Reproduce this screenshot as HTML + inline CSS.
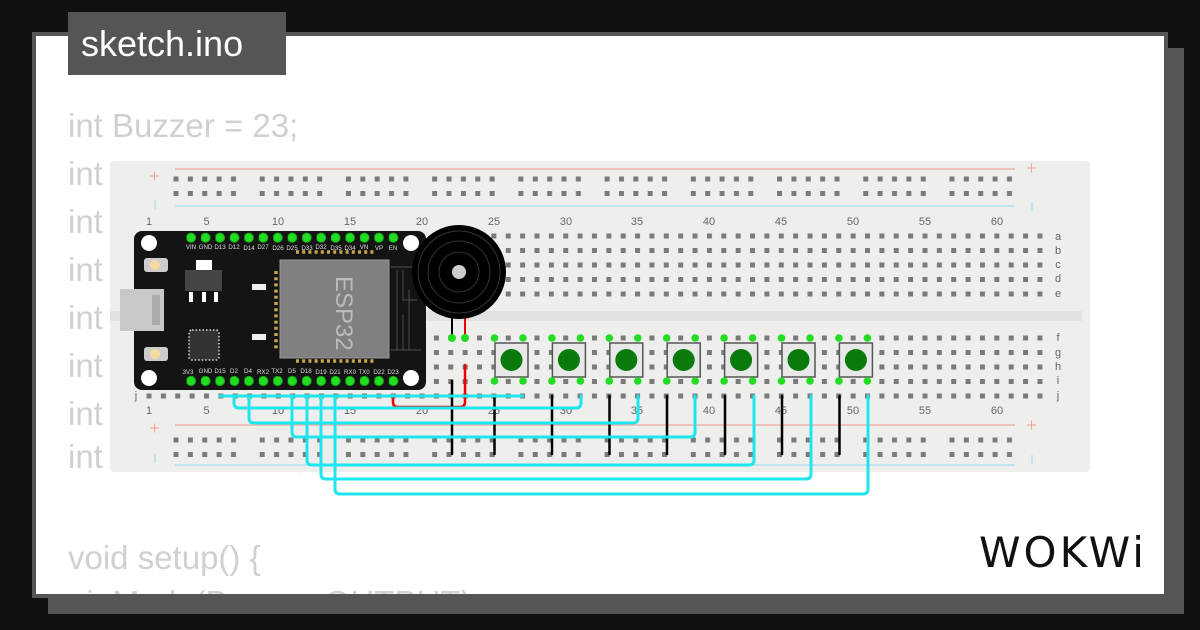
<!DOCTYPE html>
<html><head><meta charset="utf-8"><style>
html,body{margin:0;padding:0;background:#111;}
svg{display:block;}
</style></head><body>
<svg width="1200" height="630" viewBox="0 0 1200 630" xmlns="http://www.w3.org/2000/svg" font-family="Liberation Sans, sans-serif">
<defs>
<clipPath id="panel"><rect x="36" y="36" width="1128" height="558"/></clipPath>
<pattern id="h" x="146.5" y="233.5" width="14.37" height="14.5" patternUnits="userSpaceOnUse"><rect width="5" height="5" fill="#7a7a7a"/></pattern>
<pattern id="h2" x="146.5" y="335.5" width="14.37" height="14.5" patternUnits="userSpaceOnUse"><rect width="5" height="5" fill="#7a7a7a"/></pattern>
<pattern id="r1" x="173.5" y="176.5" width="86.22" height="14.5" patternUnits="userSpaceOnUse"><rect x="0" width="5" height="5" fill="#7a7a7a"/><rect x="14.37" width="5" height="5" fill="#7a7a7a"/><rect x="28.74" width="5" height="5" fill="#7a7a7a"/><rect x="43.11" width="5" height="5" fill="#7a7a7a"/><rect x="57.48" width="5" height="5" fill="#7a7a7a"/></pattern>
<pattern id="r2" x="173.5" y="437.5" width="86.22" height="14.5" patternUnits="userSpaceOnUse"><rect x="0" width="5" height="5" fill="#7a7a7a"/><rect x="14.37" width="5" height="5" fill="#7a7a7a"/><rect x="28.74" width="5" height="5" fill="#7a7a7a"/><rect x="43.11" width="5" height="5" fill="#7a7a7a"/><rect x="57.48" width="5" height="5" fill="#7a7a7a"/></pattern>
<pattern id="pin" x="186.5" y="0" width="14.45" height="630" patternUnits="userSpaceOnUse"><circle cx="4.5" cy="237.7" r="4.6" fill="#22dd22" stroke="#11aa11" stroke-width="1"/><circle cx="4.5" cy="381" r="4.6" fill="#22dd22" stroke="#11aa11" stroke-width="1"/></pattern>
</defs>
<rect x="48" y="48" width="1136" height="566" fill="#555"/>
<rect x="32" y="32" width="1136" height="566" fill="#555"/>
<rect x="36" y="36" width="1128" height="558" fill="#fff"/>
<g font-size="33" fill="#d0d0d0" clip-path="url(#panel)">
<text x="68" y="137">int Buzzer = 23;</text>
<text x="68" y="185">int button1 = 15;</text>
<text x="68" y="233">int button2 = 2;</text>
<text x="68" y="281">int button3 = 4;</text>
<text x="68" y="329">int button4 = 5;</text>
<text x="68" y="377">int button5 = 18;</text>
<text x="68" y="425">int button6 = 19;</text>
<text x="68" y="468">int button7 = 21;</text>
<text x="68" y="569">void setup() {</text>
<text x="68" y="614">  pinMode(Buzzer, OUTPUT);</text>
</g>
<rect x="68" y="12" width="218" height="63" fill="#555"/>
<text x="81" y="56" font-size="36" fill="#fff">sketch.ino</text>

<!-- breadboard -->
<rect x="110" y="161" width="980" height="311" rx="4" fill="#eeeeec"/>
<rect x="110" y="311" width="972" height="10" fill="#e2e2e2"/>
<line x1="175" y1="169" x2="1015" y2="169" stroke="#f2a9a0" stroke-width="1.2"/>
<line x1="175" y1="206" x2="1015" y2="206" stroke="#a8dcf0" stroke-width="1.2"/>
<line x1="175" y1="425" x2="1015" y2="425" stroke="#f2a9a0" stroke-width="1.2"/>
<line x1="175" y1="465" x2="1015" y2="465" stroke="#a8dcf0" stroke-width="1.2"/>
<g stroke="#f2a090" stroke-width="1"><path d="M150 176h9M154.5 171.5v9M1027 168h9M1031.5 163.5v9M150 428h9M154.5 423.5v9M1027 425h9M1031.5 420.5v9"/></g>
<g stroke="#a8dcf0" stroke-width="1.2"><path d="M155 200v9M1032 202v9M155 454v9M1032 455v9"/></g>
<rect x="173.5" y="176.5" width="862" height="20" fill="url(#r1)"/>
<rect x="173.5" y="437.5" width="862" height="20" fill="url(#r2)"/>
<rect x="146.5" y="233.5" width="905" height="70" fill="url(#h)"/>
<rect x="146.5" y="335.5" width="905" height="70" fill="url(#h2)"/>
<g font-size="11" fill="#666" text-anchor="middle">
<text x="149" y="225">1</text><text x="206.5" y="225">5</text><text x="278" y="225">10</text><text x="350" y="225">15</text><text x="422" y="225">20</text><text x="494" y="225">25</text><text x="566" y="225">30</text><text x="637" y="225">35</text><text x="709" y="225">40</text><text x="781" y="225">45</text><text x="853" y="225">50</text><text x="925" y="225">55</text><text x="997" y="225">60</text>
<text x="149" y="414">1</text><text x="206.5" y="414">5</text><text x="278" y="414">10</text><text x="350" y="414">15</text><text x="422" y="414">20</text><text x="494" y="414">25</text><text x="566" y="414">30</text><text x="637" y="414">35</text><text x="709" y="414">40</text><text x="781" y="414">45</text><text x="853" y="414">50</text><text x="925" y="414">55</text><text x="997" y="414">60</text>
<text x="1058" y="240">a</text><text x="1058" y="254">b</text><text x="1058" y="268">c</text><text x="1058" y="282">d</text><text x="1058" y="297">e</text>
<text x="1058" y="341">f</text><text x="1058" y="356">g</text><text x="1058" y="370">h</text><text x="1058" y="384">i</text><text x="1058" y="399">j</text>
<text x="136" y="399">j</text>
</g>

<!-- ESP32 -->
<rect x="134" y="231" width="292" height="159" rx="8" fill="#141414"/>
<circle cx="149" cy="243" r="8" fill="#fff"/><circle cx="411" cy="243" r="8" fill="#fff"/>
<circle cx="149" cy="378" r="8" fill="#fff"/><circle cx="411" cy="378" r="8" fill="#fff"/>
<rect x="120" y="289" width="44" height="42" fill="#c8c8c8"/><rect x="152" y="295" width="8" height="30" fill="#aaa"/>
<rect x="144" y="258" width="24" height="14" rx="3" fill="#ccc"/><circle cx="155" cy="265" r="5" fill="#f6d9a0"/>
<rect x="144" y="347" width="24" height="14" rx="3" fill="#ccc"/><circle cx="155" cy="354" r="5" fill="#f6d9a0"/>
<rect x="185" y="270" width="37" height="21" fill="#444"/><rect x="196" y="260" width="16" height="10" fill="#fff"/>
<rect x="189" y="292" width="4" height="10" fill="#fff"/><rect x="202" y="292" width="4" height="10" fill="#fff"/><rect x="214" y="292" width="4" height="10" fill="#fff"/>
<rect x="189" y="330" width="30" height="30" rx="3" fill="#333" stroke="#ddd" stroke-width="1.5" stroke-dasharray="1.5 2"/>
<rect x="252" y="284" width="14" height="6" fill="#eee"/><rect x="252" y="334" width="14" height="6" fill="#eee"/>
<g stroke="#c8a84a" stroke-width="3.5" stroke-dasharray="3 3.2">
<line x1="296" y1="252" x2="376" y2="252"/><line x1="296" y1="361" x2="376" y2="361"/><line x1="276" y1="271" x2="276" y2="349"/>
</g>
<rect x="280" y="260" width="109" height="98" fill="#808080" stroke="#999" stroke-width="1"/>
<text x="0" y="0" font-size="24" fill="#bbb" transform="translate(336,276) rotate(90)">ESP32</text>
<path d="M391 267h30M397 270v80M403 270v30h14M403 315v36M409 290v60M391 350h30" stroke="#444" stroke-width="1.2" fill="none"/>
<rect x="186.5" y="230" width="212" height="160" fill="url(#pin)"/>
<g font-size="6.2" fill="#ddd" text-anchor="middle">
<text x="191" y="249">VIN</text><text x="205.5" y="249">GND</text><text x="220" y="249">D13</text><text x="234" y="249">D12</text><text x="249" y="250">D14</text><text x="263" y="249">D27</text><text x="278" y="250">D26</text><text x="292" y="250">D25</text><text x="307" y="250">D33</text><text x="321" y="249">D32</text><text x="336" y="250">D35</text><text x="350" y="250">D34</text><text x="364" y="249">VN</text><text x="379" y="250">VP</text><text x="393" y="250">EN</text>
<text x="188" y="374">3V3</text><text x="205.5" y="373">GND</text><text x="220" y="373">D15</text><text x="234" y="373">D2</text><text x="248" y="373">D4</text><text x="263" y="374">RX2</text><text x="277" y="373">TX2</text><text x="292" y="373">D5</text><text x="306" y="373">D18</text><text x="321" y="374">D19</text><text x="335" y="374">D21</text><text x="350" y="374">RX0</text><text x="364" y="374">TX0</text><text x="379" y="374">D22</text><text x="393" y="374">D23</text>
</g>

<!-- buzzer -->
<line x1="452" y1="300" x2="452" y2="338" stroke="#000" stroke-width="2"/>
<line x1="465" y1="300" x2="465" y2="338" stroke="#e00" stroke-width="2"/>
<circle cx="459" cy="272" r="47" fill="#000"/>
<circle cx="459" cy="272" r="41" fill="none" stroke="#333" stroke-width="1"/>
<circle cx="459" cy="272" r="31" fill="none" stroke="#333" stroke-width="1"/>
<circle cx="459" cy="272" r="20" fill="none" stroke="#333" stroke-width="1"/>
<circle cx="459" cy="272" r="7" fill="#ccc"/>
<circle cx="452" cy="338" r="4" fill="#22dd22"/><circle cx="465" cy="338" r="4" fill="#22dd22"/>

<!-- wires -->
<g fill="none" stroke-linecap="round">
<path d="M465 365V402q0 5-5 5H398q-5 0-5-5v-6" stroke="#e00" stroke-width="2.5"/>
<g stroke="#000" stroke-width="2.5">
<path d="M452 381V454M494.5 396V454M552 396V454M609.5 396V454M667 396V454M725 396V454M782 396V454M839.5 396V454"/>
</g>
<g stroke="#1de6ee" stroke-width="3">
<path d="M220 396H523"/>
<path d="M234 396v7q0 5 5 5h337q5 0 5-5v-7"/>
<path d="M249 396v22q0 5 5 5h379q5 0 5-5v-22"/>
<path d="M292 396v36q0 5 5 5h393q5 0 5-5v-36"/>
<path d="M307 396v64q0 5 5 5h437q5 0 5-5v-64"/>
<path d="M321 396v78q0 5 5 5h480q5 0 5-5v-78"/>
<path d="M335 396v93q0 5 5 5h523q5 0 5-5v-93"/>
</g>
</g>

<!-- buttons -->
<g>
<g transform="translate(0,0)"><rect x="495" y="343" width="33" height="34" fill="#e8e8e8" stroke="#555" stroke-width="1.5"/><circle cx="511.5" cy="360" r="11" fill="#0a7a0a"/><circle cx="494.5" cy="338" r="3.8" fill="#22dd22"/><circle cx="523" cy="338" r="3.8" fill="#22dd22"/><circle cx="494.5" cy="381" r="3.8" fill="#22dd22"/><circle cx="523" cy="381" r="3.8" fill="#22dd22"/></g>
<g transform="translate(57.4,0)"><rect x="495" y="343" width="33" height="34" fill="#e8e8e8" stroke="#555" stroke-width="1.5"/><circle cx="511.5" cy="360" r="11" fill="#0a7a0a"/><circle cx="494.5" cy="338" r="3.8" fill="#22dd22"/><circle cx="523" cy="338" r="3.8" fill="#22dd22"/><circle cx="494.5" cy="381" r="3.8" fill="#22dd22"/><circle cx="523" cy="381" r="3.8" fill="#22dd22"/></g>
<g transform="translate(114.8,0)"><rect x="495" y="343" width="33" height="34" fill="#e8e8e8" stroke="#555" stroke-width="1.5"/><circle cx="511.5" cy="360" r="11" fill="#0a7a0a"/><circle cx="494.5" cy="338" r="3.8" fill="#22dd22"/><circle cx="523" cy="338" r="3.8" fill="#22dd22"/><circle cx="494.5" cy="381" r="3.8" fill="#22dd22"/><circle cx="523" cy="381" r="3.8" fill="#22dd22"/></g>
<g transform="translate(172.2,0)"><rect x="495" y="343" width="33" height="34" fill="#e8e8e8" stroke="#555" stroke-width="1.5"/><circle cx="511.5" cy="360" r="11" fill="#0a7a0a"/><circle cx="494.5" cy="338" r="3.8" fill="#22dd22"/><circle cx="523" cy="338" r="3.8" fill="#22dd22"/><circle cx="494.5" cy="381" r="3.8" fill="#22dd22"/><circle cx="523" cy="381" r="3.8" fill="#22dd22"/></g>
<g transform="translate(229.6,0)"><rect x="495" y="343" width="33" height="34" fill="#e8e8e8" stroke="#555" stroke-width="1.5"/><circle cx="511.5" cy="360" r="11" fill="#0a7a0a"/><circle cx="494.5" cy="338" r="3.8" fill="#22dd22"/><circle cx="523" cy="338" r="3.8" fill="#22dd22"/><circle cx="494.5" cy="381" r="3.8" fill="#22dd22"/><circle cx="523" cy="381" r="3.8" fill="#22dd22"/></g>
<g transform="translate(287,0)"><rect x="495" y="343" width="33" height="34" fill="#e8e8e8" stroke="#555" stroke-width="1.5"/><circle cx="511.5" cy="360" r="11" fill="#0a7a0a"/><circle cx="494.5" cy="338" r="3.8" fill="#22dd22"/><circle cx="523" cy="338" r="3.8" fill="#22dd22"/><circle cx="494.5" cy="381" r="3.8" fill="#22dd22"/><circle cx="523" cy="381" r="3.8" fill="#22dd22"/></g>
<g transform="translate(344.4,0)"><rect x="495" y="343" width="33" height="34" fill="#e8e8e8" stroke="#555" stroke-width="1.5"/><circle cx="511.5" cy="360" r="11" fill="#0a7a0a"/><circle cx="494.5" cy="338" r="3.8" fill="#22dd22"/><circle cx="523" cy="338" r="3.8" fill="#22dd22"/><circle cx="494.5" cy="381" r="3.8" fill="#22dd22"/><circle cx="523" cy="381" r="3.8" fill="#22dd22"/></g>
</g>

<!-- logo -->
<text x="979" y="567" font-size="42" fill="#111" font-family="DejaVu Sans, sans-serif" letter-spacing="3">WOKWi</text>
</svg>
</body></html>
